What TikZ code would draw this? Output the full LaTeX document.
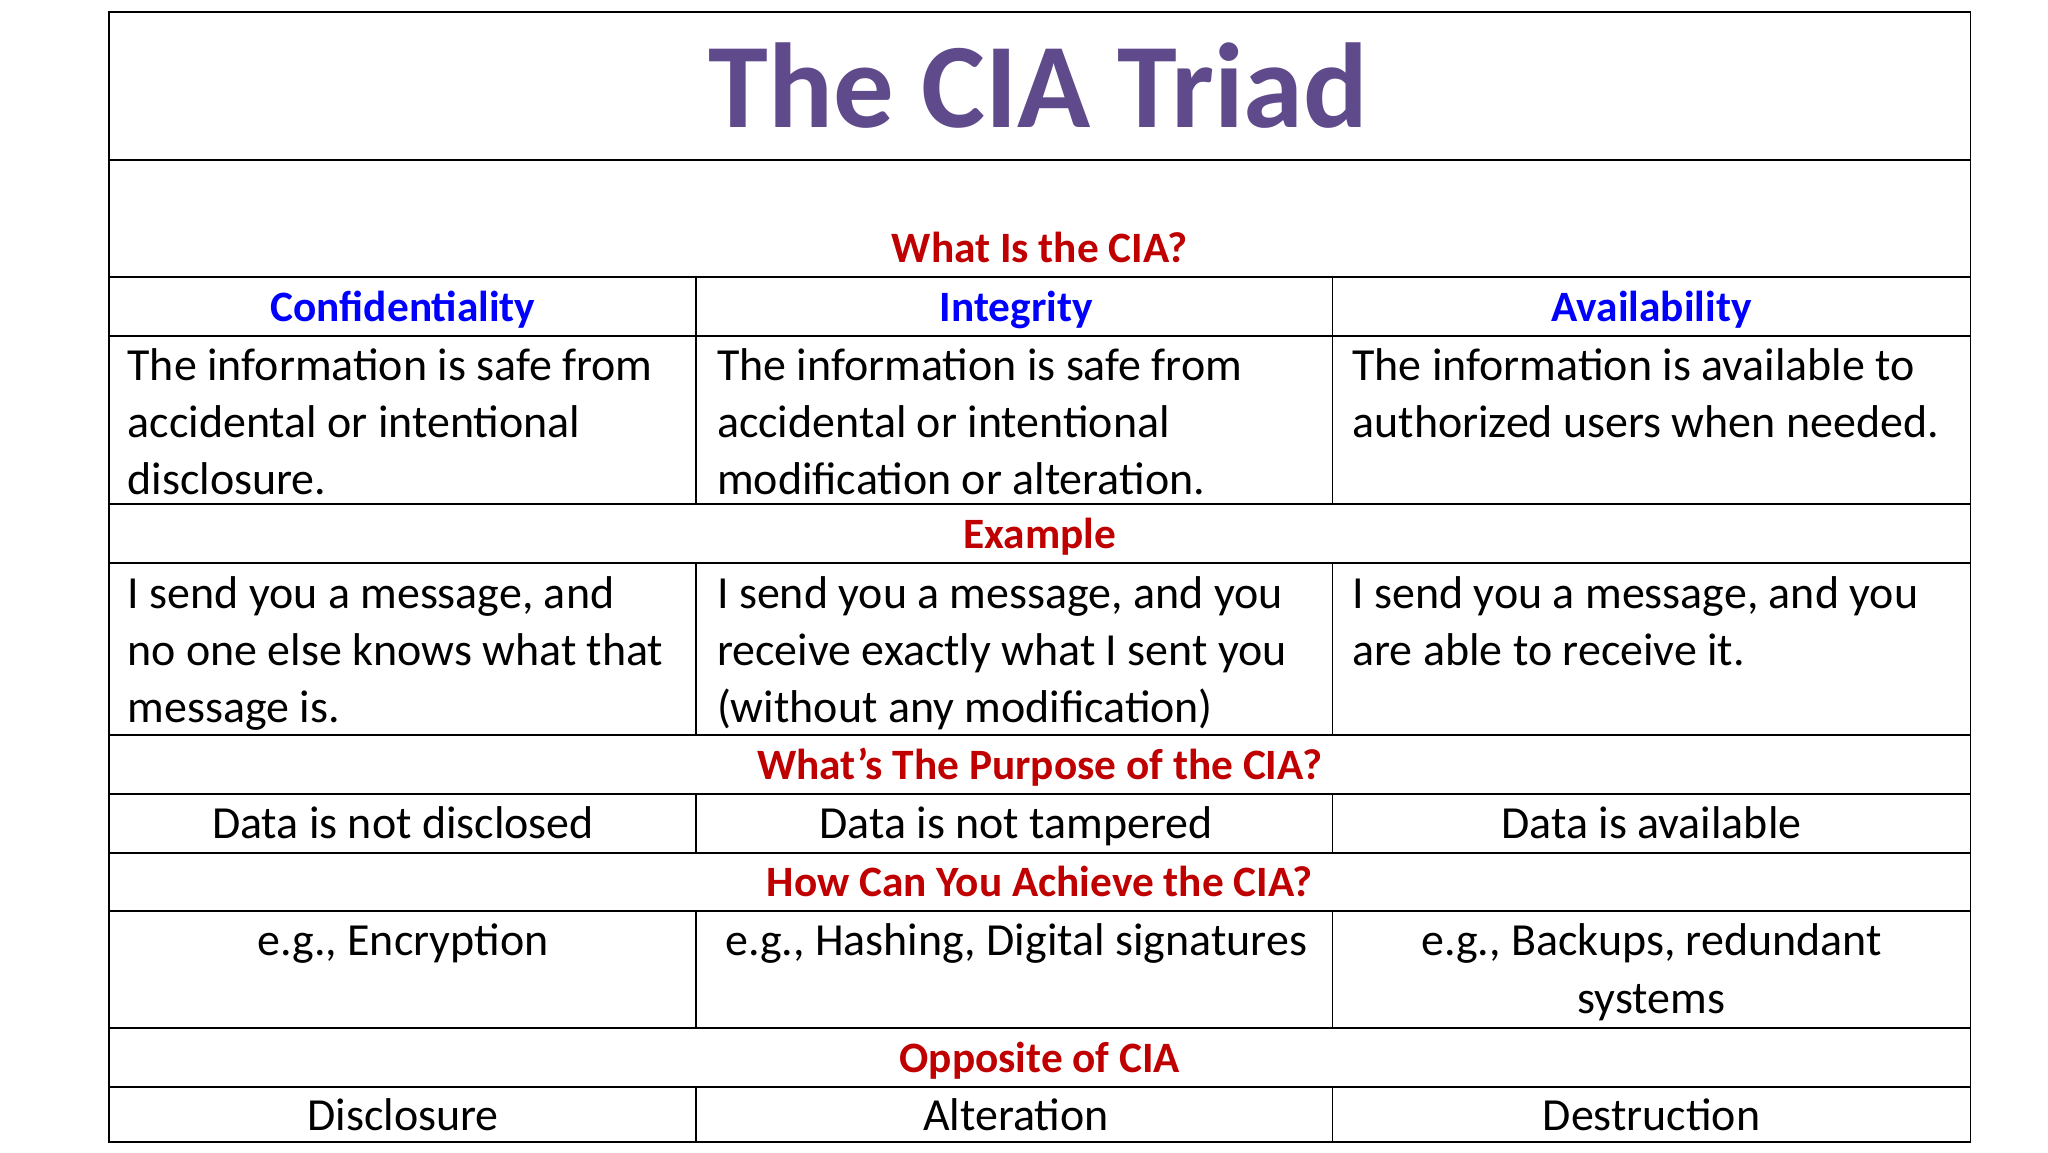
\documentclass[tikz,border=0pt]{standalone}
\usepackage{fontspec}
\setmainfont{Carlito}
\definecolor{ttl}{HTML}{5F4B8B}
\definecolor{rd}{HTML}{C00000}
\definecolor{bl}{HTML}{0000FF}
\begin{document}
\begin{tikzpicture}[x=1pt,y=-1pt,
  body/.style={inner sep=0pt,font=\fontsize{35}{43.5}\selectfont},
  cell/.style={body,anchor=north west,align=left},
  ctr/.style={body,anchor=base},
  sec/.style={ctr,font=\fontsize{33}{43.5}\selectfont\bfseries,text=rd},
  hd/.style={ctr,font=\fontsize{33}{43.5}\selectfont\bfseries,text=bl},
  ln/.style={line width=1.3pt}]
\useasboundingbox[fill=white] (0,0) rectangle (1560,878);
\draw[ln] (83,9) rectangle (1501,870);
\foreach \y in {122,211,256,384,429,560,605,650,694,783,828}
  \draw[ln] (83,\y) -- (1501,\y);
\foreach \a/\b in {211/384,429/560,605/650,694/783,828/870}{
  \draw[ln] (530,\a) -- (530,\b);
  \draw[ln] (1015,\a) -- (1015,\b);}
\node[ctr,font=\fontsize{92}{100}\selectfont\bfseries,text=ttl] (title) at (791,97) {The CIA Triad};
\node[sec] (q1) at (792,200) {What Is the CIA?};
\node[hd] (h1) at (307,245) {Confidentiality};
\node[hd] (h2) at (774,245) {Integrity};
\node[hd] (h3) at (1258,245) {Availability};
\node[cell] (d1) at (97,265) {The information is safe from\\accidental or intentional\\disclosure.};
\node[cell] (d2) at (546,265) {The information is safe from\\accidental or intentional\\modification or alteration.};
\node[cell] (d3) at (1030,265) {The information is available to\\authorized users when needed.};
\node[sec] (q2) at (792,418) {Example};
\node[cell] (e1) at (97,439) {I send you a message, and\\no one else knows what that\\message is.};
\node[cell] (e2) at (546,439) {I send you a message, and you\\receive exactly what I sent you\\(without any modification)};
\node[cell] (e3) at (1030,439) {I send you a message, and you\\are able to receive it.};
\node[sec] (q3) at (792,594) {What's The Purpose of the CIA?};
\node[ctr] (p1) at (307,639) {Data is not disclosed};
\node[ctr] (p2) at (774,639) {Data is not tampered};
\node[ctr] (p3) at (1258,639) {Data is available};
\node[sec] (q4) at (792,683) {How Can You Achieve the CIA?};
\node[ctr] (a1) at (307,728) {e.g., Encryption};
\node[ctr] (a2) at (774,728) {e.g., Hashing, Digital signatures};
\node[ctr] (a3) at (1258,728) {e.g., Backups, redundant};
\node[ctr] (a3b) at (1258,772) {systems};
\node[sec] (q5) at (792,817) {Opposite of CIA};
\node[ctr] (o1) at (307,861) {Disclosure};
\node[ctr] (o2) at (774,861) {Alteration};
\node[ctr] (o3) at (1258,861) {Destruction};
\end{tikzpicture}
\end{document}
